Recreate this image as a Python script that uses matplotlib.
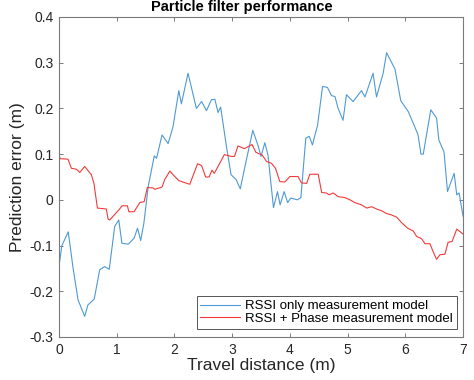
import matplotlib
matplotlib.use("Agg")
import matplotlib.pyplot as plt

plt.rcParams['font.family'] = ['Liberation Sans', 'DejaVu Sans']

dist_rssi = [0, 0.05, 0.16, 0.24, 0.33, 0.445, 0.50, 0.61, 0.705, 0.79, 0.87, 0.965,
             1.035, 1.09, 1.2, 1.30, 1.36, 1.415, 1.47, 1.545, 1.65, 1.69, 1.785, 1.89,
             1.975, 2.075, 2.12, 2.235, 2.38, 2.47, 2.555, 2.64, 2.70, 2.755, 2.80, 2.90,
             2.98, 3.07, 3.14, 3.24, 3.357, 3.445, 3.50, 3.565, 3.62, 3.715, 3.785, 3.83,
             3.90, 3.96, 4.015, 4.13, 4.19, 4.275, 4.335, 4.39, 4.48, 4.565, 4.65, 4.72,
             4.78, 4.835, 4.92, 4.98, 5.095, 5.24, 5.30, 5.44, 5.50, 5.615, 5.675, 5.82,
             5.92, 6.05, 6.135, 6.22, 6.27, 6.31, 6.44, 6.54, 6.58, 6.67, 6.73, 6.845,
             6.89, 6.93, 7.0]
err_rssi = [-0.145, -0.10, -0.07, -0.146, -0.219, -0.255, -0.23, -0.217, -0.153, -0.146,
            -0.152, -0.058, -0.044, -0.095, -0.097, -0.084, -0.062, -0.089, -0.051, 0.029,
            0.096, 0.091, 0.142, 0.123, 0.16, 0.239, 0.21, 0.277, 0.20, 0.215, 0.195, 0.219,
            0.22, 0.191, 0.203, 0.117, 0.055, 0.044, 0.024, 0.084, 0.152, 0.12, 0.095, 0.125,
            0.098, -0.017, 0.018, -0.011, 0.018, -0.006, 0.004, 0.0, 0.005, 0.135, 0.139,
            0.12, 0.164, 0.248, 0.246, 0.228, 0.226, 0.20, 0.174, 0.23, 0.215, 0.239, 0.225,
            0.277, 0.225, 0.277, 0.322, 0.286, 0.217, 0.193, 0.168, 0.142, 0.10, 0.10, 0.197,
            0.179, 0.131, 0.104, 0.018, 0.058, 0.011, 0.015, -0.036]

# RSSI + Phase measurement model
dist_phase = [0, 0.02, 0.155, 0.215, 0.30, 0.36, 0.445, 0.56, 0.605, 0.665, 0.82, 0.85,
              0.88, 1.05, 1.09, 1.185, 1.21, 1.30, 1.40, 1.475, 1.53, 1.63, 1.66, 1.785,
              1.83, 1.92, 1.975, 2.075, 2.265, 2.40, 2.47, 2.54, 2.60, 2.65, 2.69, 2.78,
              2.865, 2.98, 3.04, 3.10, 3.21, 3.345, 3.41, 3.52, 3.595, 3.68, 3.75, 3.825,
              3.91, 4.0, 4.14, 4.20, 4.29, 4.345, 4.49, 4.55, 4.63, 4.68, 4.75, 4.835, 4.95,
              5.04, 5.125, 5.24, 5.33, 5.415, 5.50, 5.59, 5.675, 5.76, 5.85, 5.935, 6.04,
              6.135, 6.195, 6.28, 6.34, 6.425, 6.48, 6.54, 6.60, 6.685, 6.74, 6.81, 6.89,
              6.93, 7.0]
err_phase = [0.10, 0.09, 0.089, 0.069, 0.067, 0.06, 0.073, 0.055, 0.036, -0.018, -0.02,
             -0.042, -0.044, -0.02, -0.013, -0.013, -0.026, -0.026, -0.006, -0.004, 0.027,
             0.026, 0.023, 0.028, 0.044, 0.063, 0.055, 0.042, 0.034, 0.079, 0.075, 0.05,
             0.05, 0.065, 0.058, 0.079, 0.099, 0.095, 0.095, 0.118, 0.112, 0.121, 0.104,
             0.098, 0.084, 0.08, 0.069, 0.04, 0.039, 0.051, 0.051, 0.037, 0.036, 0.056,
             0.056, 0.016, 0.015, 0.011, 0.015, 0.007, 0.005, 0.0, -0.006, -0.011, -0.018,
             -0.015, -0.02, -0.024, -0.03, -0.033, -0.038, -0.05, -0.062, -0.068, -0.08,
             -0.085, -0.096, -0.096, -0.113, -0.13, -0.12, -0.119, -0.093, -0.091, -0.064,
             -0.068, -0.075]

fig = plt.figure(figsize=(4.74, 3.8), dpi=100)
ax = fig.add_axes([0.1245, 0.1132, 0.8525, 0.8421])

ax.plot(dist_rssi, err_rssi, color='#4f9ad4', lw=0.8, label='RSSI only measurement model')
ax.plot(dist_phase, err_phase, color='#f23a3a', lw=0.8, label='RSSI + Phase measurement model')

ax.set_xlim(0, 7)
ax.set_ylim(-0.3, 0.4)
ax.set_xticks(range(0, 8))
ax.set_yticks([-0.3, -0.2, -0.1, 0, 0.1, 0.2, 0.3, 0.4])
ax.set_yticklabels(['-0.3', '-0.2', '-0.1', '0', '0.1', '0.2', '0.3', '0.4'])

for s in ax.spines.values():
    s.set_color('#7a7a7a')
    s.set_linewidth(0.8)
ax.tick_params(direction='in', top=True, right=True, length=3, width=0.7,
               color='#7a7a7a', labelsize=10, labelcolor='#262626', pad=4)

ax.set_xlabel('Travel distance (m)', fontsize=12.5, color='#262626', labelpad=1)
ax.set_ylabel('Prediction error (m)', fontsize=12.5, color='#262626', labelpad=3)
fig.text(0.51, 0.982, 'Particle filter performance', ha='center', va='center',
         fontsize=10.5, fontweight='bold')

leg = ax.legend(loc='lower right', bbox_to_anchor=(0.985, 0.025), borderaxespad=0,
                fontsize=9.5, handlelength=3.0, handletextpad=0.4, borderpad=0.3,
                labelspacing=0.05, fancybox=False, framealpha=1)
leg.get_frame().set_edgecolor('#555555')
leg.get_frame().set_linewidth(0.7)

fig.savefig('out.png', dpi=100)
